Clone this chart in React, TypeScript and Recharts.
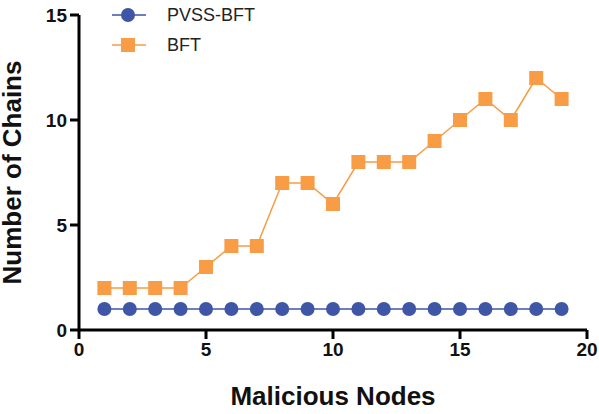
import { LineChart, Line, XAxis, YAxis } from 'recharts';

const nodes = [1, 2, 3, 4, 5, 6, 7, 8, 9, 10, 11, 12, 13, 14, 15, 16, 17, 18, 19];
const pvssChains = [1, 1, 1, 1, 1, 1, 1, 1, 1, 1, 1, 1, 1, 1, 1, 1, 1, 1, 1];
const bftChains = [2, 2, 2, 2, 3, 4, 4, 7, 7, 6, 8, 8, 8, 9, 10, 11, 10, 12, 11];
const xTicks = [0, 5, 10, 15, 20];
const yTicks = [0, 5, 10, 15];

const BLUE = '#3f55a6';
const ORANGE = '#f89c45';
const FONT = '"Liberation Sans", Arial, sans-serif';

const data = nodes.map((n, i) => ({ n, pvss: pvssChains[i], bft: bftChains[i] }));

const SquareDot = (props: any) => {
  const { cx, cy, index } = props;
  if (cx == null || cy == null) return null;
  return <rect key={`sq-${index}`} x={cx - 7} y={cy - 7} width={14} height={14} fill={ORANGE} />;
};

const CircleDot = (props: any) => {
  const { cx, cy, index } = props;
  if (cx == null || cy == null) return null;
  return <circle key={`c-${index}`} cx={cx} cy={cy} r={7} fill={BLUE} />;
};

const legendItems = [
  { label: 'PVSS-BFT', color: BLUE, shape: 'circle' },
  { label: 'BFT', color: ORANGE, shape: 'square' },
];

// legend sits over the top of the plot, left of the data
function LegendBox() {
  return (
    <div style={{ position: 'absolute', left: 111, top: 0, fontFamily: FONT }}>
      {legendItems.map((item) => (
        <div key={item.label} style={{ display: 'flex', alignItems: 'center', height: 30 }}>
          <svg width={36} height={16}>
            <line x1={1} x2={35} y1={8} y2={8} stroke={item.color} strokeWidth={1.5} />
            {item.shape === 'circle' ? (
              <circle cx={17} cy={8} r={7} fill={item.color} />
            ) : (
              <rect x={10} y={1} width={14} height={14} fill={item.color} />
            )}
          </svg>
          <span style={{ marginLeft: 20, fontSize: 18, color: '#222' }}>{item.label}</span>
        </div>
      ))}
    </div>
  );
}

export default function App() {
  return (
    <div style={{ position: 'absolute', left: 0, top: 0, width: 599, height: 414, background: '#fff' }}>
      <LineChart width={599} height={414} data={data} margin={{ top: 15, right: 12, bottom: 0, left: 0 }}>
        <XAxis
          dataKey="n"
          type="number"
          domain={[0, 20]}
          ticks={xTicks}
          height={84}
          stroke="#000"
          strokeWidth={3}
          tickSize={9}
          tick={{ fill: '#111', fontSize: 19, fontWeight: 'bold', fontFamily: FONT }}
          tickMargin={4}
          label={{
            value: 'Malicious Nodes',
            position: 'insideBottom',
            offset: 9,
            style: { fill: '#111', fontSize: 26, fontWeight: 'bold', fontFamily: FONT },
          }}
        />
        <YAxis
          type="number"
          domain={[0, 15]}
          ticks={yTicks}
          width={79}
          stroke="#000"
          strokeWidth={3}
          tickSize={9}
          tick={{ fill: '#111', fontSize: 19, fontWeight: 'bold', fontFamily: FONT }}
          tickMargin={3}
          label={{
            value: 'Number of Chains',
            angle: -90,
            position: 'insideLeft',
            offset: 12,
            style: { textAnchor: 'middle', fill: '#111', fontSize: 26, fontWeight: 'bold', fontFamily: FONT },
          }}
        />
        <Line
          dataKey="pvss"
          name="PVSS-BFT"
          stroke={BLUE}
          strokeWidth={1.5}
          dot={CircleDot}
          isAnimationActive={false}
        />
        <Line
          dataKey="bft"
          name="BFT"
          stroke={ORANGE}
          strokeWidth={1.5}
          dot={SquareDot}
          isAnimationActive={false}
        />
      </LineChart>
      <LegendBox />
    </div>
  );
}
